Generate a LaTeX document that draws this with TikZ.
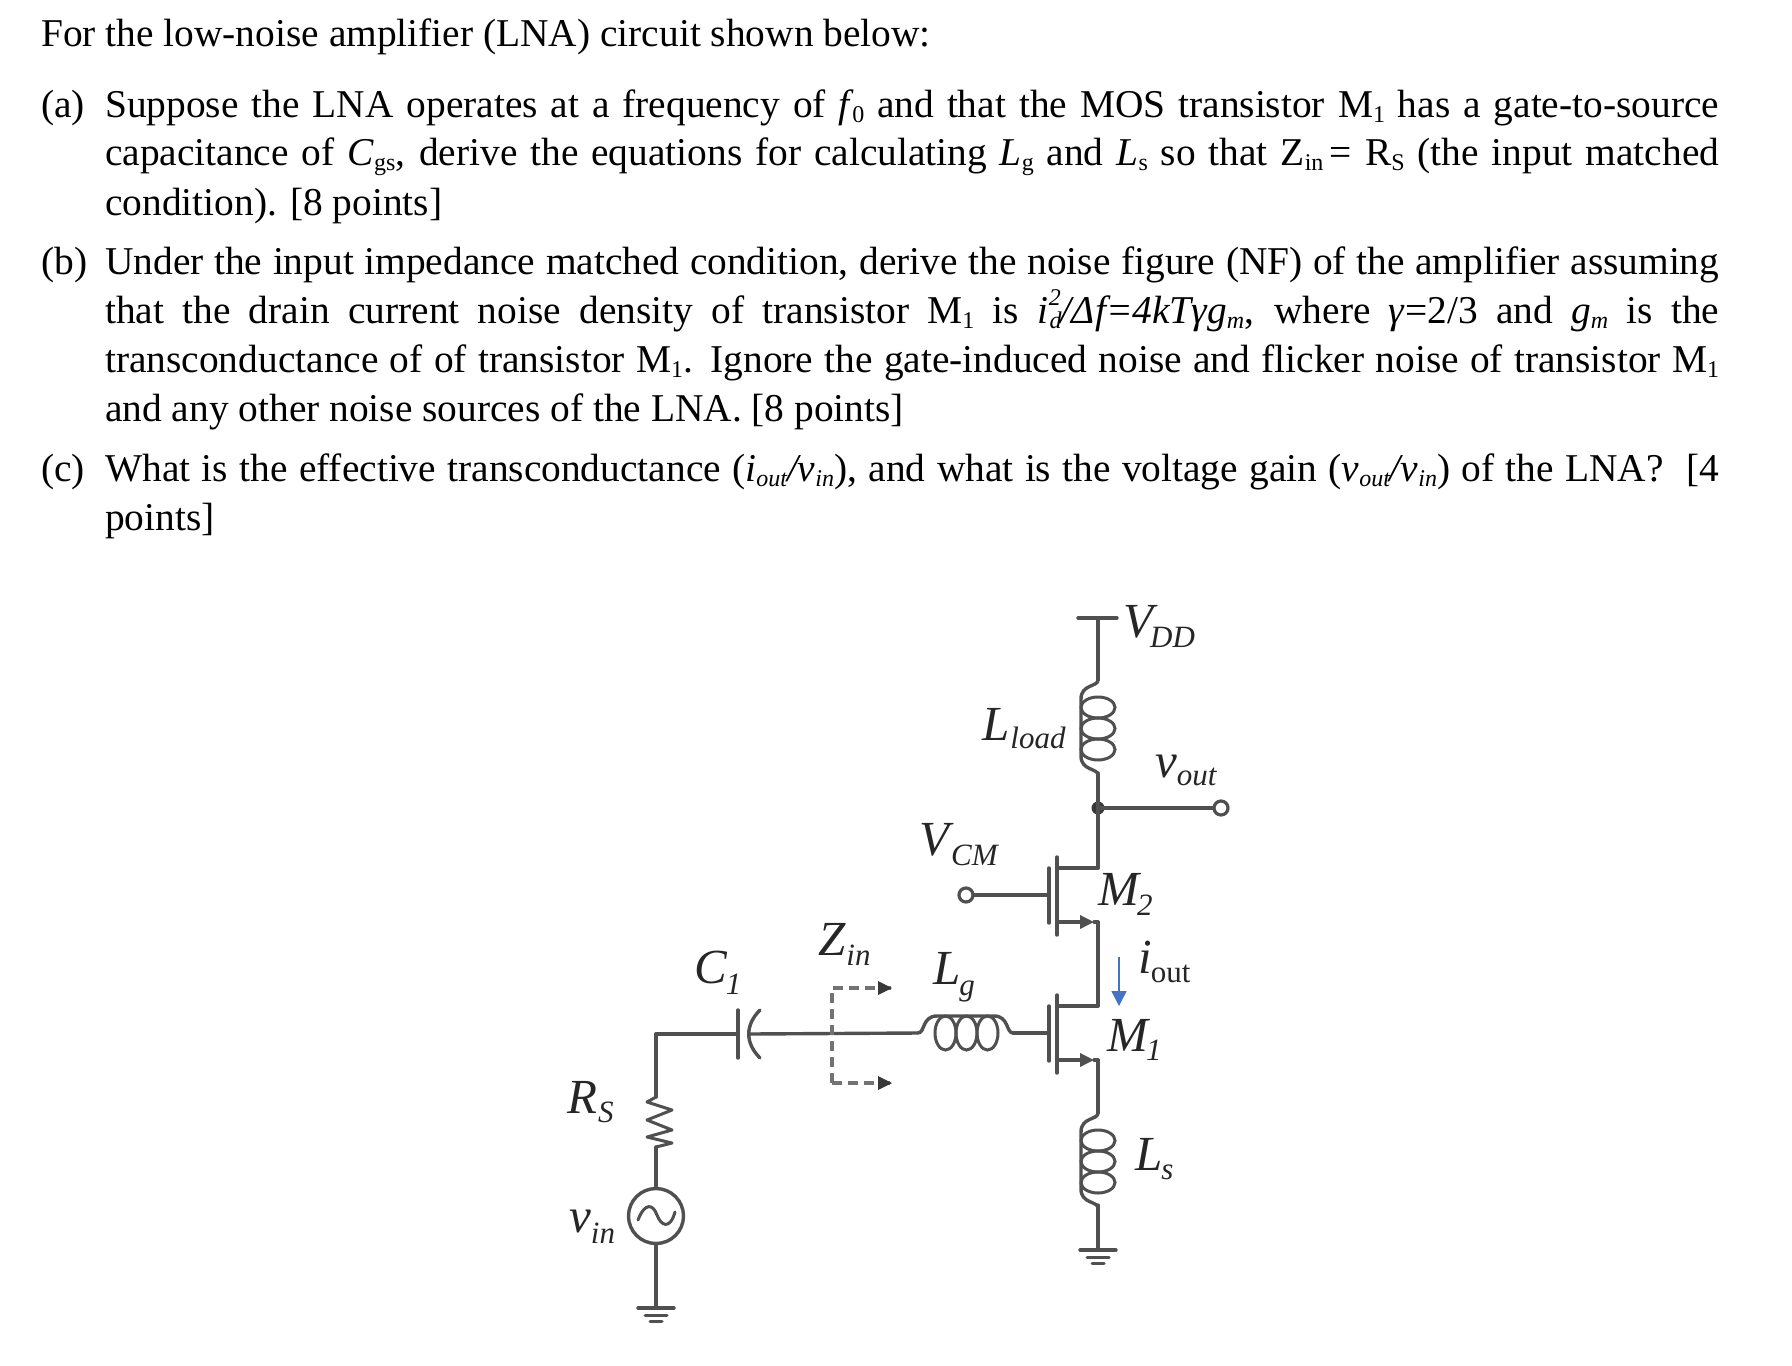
\documentclass[tikz,border=0pt]{standalone}
\usepackage{fontspec}
\setmainfont{Liberation Serif}
\usetikzlibrary{arrows.meta}
\definecolor{wirecol}{HTML}{505050}
\definecolor{bluearrow}{HTML}{4472C4}
\newcommand{\bodyfont}{\fontsize{39.4}{45}\selectfont}
\newcommand{\dn}[1]{\raisebox{-0.14em}{\fontsize{24}{24}\selectfont #1}}
\newcommand{\dni}[1]{\raisebox{-0.14em}{\fontsize{24}{24}\selectfont\itshape #1}}
\tikzset{
  x=1pt,y=-1pt,
  txt/.style={anchor=base west,inner sep=0pt,font=\bodyfont},
  cirlbl/.style={anchor=base west,inner sep=0pt,text=black!85},
  wire/.style={draw=wirecol,line width=3.4pt,line cap=round,line join=round},
  thinwire/.style={draw=wirecol,line width=3pt,line cap=round},
  dashwire/.style={draw=wirecol!80,line width=3.6pt,dash pattern=on 10pt off 6pt},
  term/.style={circle,draw=wirecol,line width=3.2pt,fill=white,minimum size=14pt,inner sep=0pt},
  srcnode/.style={circle,draw=wirecol,line width=3.4pt,fill=white,minimum size=55pt,inner sep=0pt},
  tipwire/.style={wire,-{Triangle[length=14pt,width=13pt]}}
}
% line of justified text
\newcommand{\jline}[3]{\node[txt] (#1) at (105,#2) {\makebox[1614pt][s]{#3}};}
\newcommand{\pline}[4]{\node[txt] (#1) at (#2,#3) {#4};}
% circuit label: name, x, y, main text, kern, subscript, drop
\newcommand{\clbl}[7]{\node[cirlbl] (#1) at (#2,#3) {\fontsize{49}{49}\selectfont\itshape #4\kern#5pt\raisebox{-#7pt}{\fontsize{31}{31}\selectfont #6}};}
% coil: origin, rotation, flip
\newcommand{\coil}[4]{%
  \begin{scope}[shift={(#1,#2)},rotate=#3,yscale=#4]
    \draw[wire] (0,0) .. controls (7,0) and (4,-17) .. (19,-17) -- (76,-17) .. controls (91,-17) and (88,0) .. (95,0);
    \foreach \cx in {27.5,48.5,69.5}{\draw[thinwire] (\cx,0) ellipse [x radius=10.5,y radius=17];}
  \end{scope}}
% MOS transistor at gate-lead y
\newcommand{\mosfet}[2]{%
  \coordinate (#1-g) at (1049,#2);
  \coordinate (#1-gt) at (1049,#2-27);
  \coordinate (#1-gb) at (1049,#2+28);
  \coordinate (#1-ct) at (1057,#2-38);
  \coordinate (#1-cb) at (1057,#2+40);
  \coordinate (#1-cd) at (1057,#2-27);
  \coordinate (#1-cs) at (1057,#2+27);
  \coordinate (#1-d) at (1098,#2-27);
  \coordinate (#1-t) at (1094,#2+27);
  \coordinate (#1-s) at (1098,#2+27);
  \draw[wire] (#1-gt) -- (#1-gb);
  \draw[wire] (#1-ct) -- (#1-cb);
  \draw[wire] (#1-cd) -- (#1-d);
  \draw[tipwire] (#1-cs) -- (#1-t);
  \draw[wire] (#1-t) -- (#1-s);}
% ground symbol
\newcommand{\gnd}[1]{%
  \draw[wire] ([xshift=-18pt]#1) -- ([xshift=18pt]#1);
  \draw[thinwire] ([xshift=-11pt,yshift=-7pt]#1) -- ([xshift=11pt,yshift=-7pt]#1);
  \draw[thinwire] ([xshift=-6pt,yshift=-13pt]#1) -- ([xshift=6pt,yshift=-13pt]#1);}
\begin{document}
\begin{tikzpicture}
\useasboundingbox (0,0) rectangle (1792,1366);
\fill[white] (0,0) rectangle (1792,1366);
% ---------- text ----------
\pline{t0}{41}{46}{For the low-noise amplifier (LNA) circuit shown below:}
\pline{la}{41}{117}{(a)}
\jline{a1}{117}{Suppose the LNA operates at a frequency of \textit{f}\kern-2pt\dn{0} and that the MOS transistor M\dn{1} has a gate-to-source}
\jline{a2}{165}{capacitance of \textit{C}\dn{gs}, derive the equations for calculating \textit{L}\dn{g} and \textit{L}\dn{s} so that Z\dn{in}\,= R\dn{S} (the input matched}
\pline{a3}{105}{215}{condition). [8 points]}
\pline{lb}{41}{274}{(b)}
\jline{b1}{274}{Under the input impedance matched condition, derive the noise figure (NF) of the amplifier assuming}
\jline{b2}{323}{that the drain current noise density of transistor M\dn{1} is \textit{i}\kern1.5pt\raisebox{-0.14em}{\fontsize{24}{24}\selectfont\itshape d}\kern-0.32em\raisebox{0.45em}{\fontsize{24}{24}\selectfont\itshape 2}\textit{/Δf=4kTγg}\dni{m}, where \textit{γ}=2/3 and \textit{g}\dni{m} is the}
\jline{b3}{372}{transconductance of of transistor M\dn{1}. Ignore the gate-induced noise and flicker noise of transistor M\dn{1}}
\pline{b4}{105}{421}{and any other noise sources of the LNA. [8 points]}
\pline{lc}{41}{481}{(c)}
\jline{c1}{481}{What is the effective transconductance (\textit{i}\dni{out}\textit{/v}\dni{in}), and what is the voltage gain (\textit{v}\dni{out}\textit{/v}\dni{in}) of the LNA?\ \ [4}
\pline{c2}{105}{530}{points]}
% ---------- circuit coordinates ----------
\coordinate (vddL) at (1078,618);
\coordinate (vddR) at (1117,618);
\coordinate (vdd) at (1098,618);
\coordinate (loadT) at (1098,680);
\coordinate (loadB) at (1098,773);
\coordinate (outJ) at (1098,808);
\coordinate (lsT) at (1098,1113);
\coordinate (lsB) at (1098,1205);
\coordinate (gndR) at (1098,1250);
\coordinate (lgL) at (918,1033);
\coordinate (lgR) at (1013,1033);
\coordinate (capL) at (738,1034);
\coordinate (capR) at (750,1034);
\coordinate (corner) at (656,1034);
\coordinate (resT) at (656,1097);
\coordinate (resB) at (656,1147);
\coordinate (gndL) at (656,1308);
\coordinate (dashT) at (832,988);
\coordinate (dashB) at (832,1083);
\coordinate (dashTe) at (892,988);
\coordinate (dashBe) at (892,1083);
\coordinate (iTop) at (1119,957);
\coordinate (iEnd) at (1119,1006);
% ---------- terminals and source ----------
\node[term] (vo) at (1221,808) {};
\node[term] (vc) at (966,895) {};
\node[srcnode] (vs) at (656,1216) {};
\fill[wirecol!70!black] (outJ) circle (6.5pt);
% ---------- M2, M1 ----------
\mosfet{mb}{895}
\mosfet{ma}{1033}
% ---------- wires ----------
\draw[wire] (vddL) -- (vddR);
\draw[wire] (vdd) -- (loadT);
\coil{1098}{680}{-90}{-1}
\draw[wire] (loadB) -- (outJ);
\draw[wire] (outJ) -- (vo);
\draw[wire] (outJ) -- (mb-d);
\draw[wire] (vc) -- (mb-g);
\draw[wire] (mb-s) -- (ma-d);
\draw[wire] (ma-s) -- (lsT);
\coil{1098}{1113}{-90}{-1}
\draw[wire] (lsB) -- (gndR);
\gnd{gndR}
\coil{918}{1033}{0}{1}
\draw[wire] (lgR) -- (ma-g);
\draw[wire] (capR) -- (lgL);
\draw[wire] (738,1010) -- (738,1058);
\draw[wire] (760,1010) .. controls (745,1025) and (745,1043) .. (760,1058);
\draw[wire] (capL) -- (corner) -- (resT);
\draw[thinwire,line join=round] (resT) -- ++(-9,5) -- ++(25,8) -- ++(-25,10) -- ++(25,10) -- ++(-25,7) -- ++(25,6) -- (resB);
\draw[wire] (resB) -- (vs);
\draw[wire] (vs) -- (gndL);
\gnd{gndL}
\draw[thinwire] (638,1220) .. controls (645,1202) and (653,1204) .. (657,1215) .. controls (661,1226) and (670,1230) .. (675,1212);
% ---------- dashed Zin reference ----------
\draw[dashwire] (dashB) -- (dashT) -- (dashTe);
\draw[dashwire] (dashB) -- (dashBe);
\fill[wirecol!70!black] (dashTe) -- ++(-14,-7) -- ++(0,14) -- cycle;
\fill[wirecol!70!black] (dashBe) -- ++(-14,-7) -- ++(0,14) -- cycle;
% ---------- blue current arrow ----------
\draw[bluearrow,line width=1.5pt,-{Triangle[length=15pt,width=15pt]}] (iTop) -- (iEnd);
% ---------- labels ----------
\clbl{lvdd}{1123}{637}{V}{-3}{DD}{10}
\clbl{lload}{982}{740}{L}{1}{load}{8}
\clbl{lvout}{1155}{777}{v}{0}{out}{8}
\clbl{lvcm}{919}{855}{V}{2}{CM}{10}
\clbl{lm2}{1098}{905}{M}{-2}{2}{10}
\node[cirlbl] (liout) at (1138,973) {\fontsize{49}{49}\selectfont\itshape i\kern-1pt\raisebox{-9pt}{\fontsize{31}{31}\selectfont\upshape out}};
\clbl{lm1}{1107}{1051}{M}{-2}{1}{9}
\clbl{llg}{933}{984}{L}{-1}{g}{11}
\clbl{lls}{1135}{1170}{L}{-1}{s}{9}
\clbl{lzin}{818}{955}{Z}{1}{in}{10}
\clbl{lc1}{694}{983}{C}{-1}{1}{11}
\clbl{lrs}{567}{1113}{R}{1}{S}{9}
\clbl{lvin}{569}{1232}{v}{0}{in}{11}
\end{tikzpicture}
\end{document}
